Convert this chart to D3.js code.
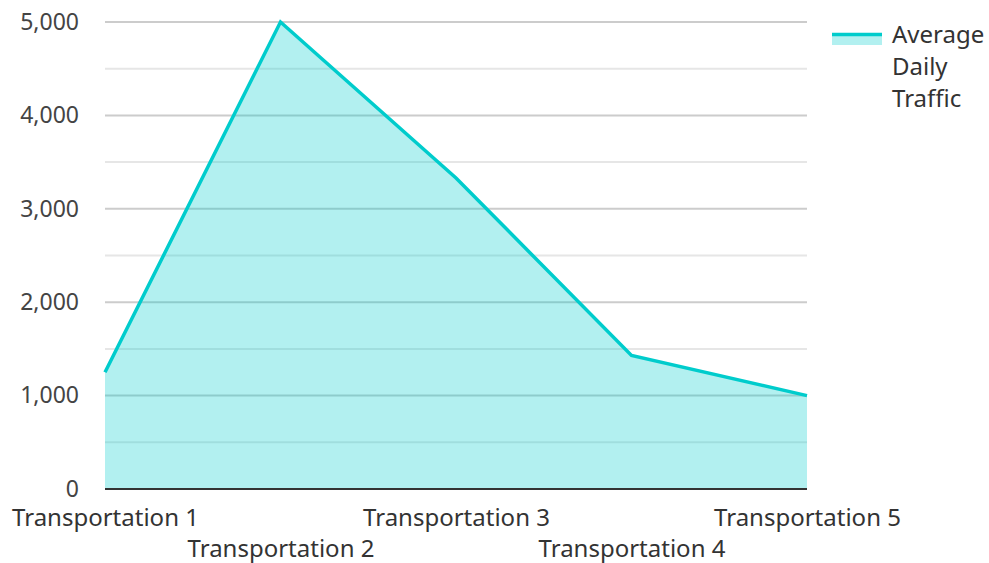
<!DOCTYPE html>
<html><head><meta charset="utf-8">
<script src="https://cdn.jsdelivr.net/npm/d3@7"></script>
<style>
html,body{margin:0;padding:0;background:#fff;}
svg{display:block;font-family:"Noto Sans",sans-serif;}
</style></head>
<body>
<svg id="c" width="989" height="563"></svg>
<script>
const categories = ["Transportation 1","Transportation 2","Transportation 3","Transportation 4","Transportation 5"];
const values = [1250, 5000, 3330, 1430, 1000];
const seriesName = "Average Daily Traffic";
const majorTicks = [0,1000,2000,3000,4000,5000];
const minorTicks = [500,1500,2500,3500,4500];

(function(){
const svg = d3.select("#c");
const mLeft = 105, mRight = 807, mTop = 22, mBottom = 489;
const x = d3.scalePoint().domain(categories).range([mLeft, mRight]);
const y = d3.scaleLinear().domain([0, 5000]).range([mBottom, mTop]);

const lineColor = "#00CCCC";
const fillColor = "rgba(0,204,204,0.3)";

// gridlines
svg.append("g").selectAll("line").data(minorTicks).join("line")
  .attr("x1", mLeft).attr("x2", mRight)
  .attr("y1", d => y(d)).attr("y2", d => y(d))
  .attr("stroke", "#e6e6e6").attr("stroke-width", 2);
svg.append("g").selectAll("line").data(majorTicks.filter(d=>d>0)).join("line")
  .attr("x1", mLeft).attr("x2", mRight)
  .attr("y1", d => y(d)).attr("y2", d => y(d))
  .attr("stroke", "#cccccc").attr("stroke-width", 2);

// area
const data = categories.map((c,i)=>({c, v: values[i]}));
const area = d3.area().x(d => x(d.c)).y0(y(0)).y1(d => y(d.v));
svg.append("path").datum(data).attr("d", area).attr("fill", fillColor);
svg.append("path").datum(data).attr("d", d3.line().x(d=>x(d.c)).y(d=>y(d.v)))
  .attr("fill","none").attr("stroke", lineColor).attr("stroke-width", 3.5).attr("stroke-linejoin","miter");

// baseline
svg.append("line").attr("x1", mLeft).attr("x2", mRight).attr("y1", y(0)).attr("y2", y(0))
  .attr("stroke", "#333").attr("stroke-width", 2);

// y axis labels
const yAxis = d3.axisLeft(y).tickValues(majorTicks).tickFormat(d3.format(",")).tickSize(0).tickPadding(26);
const ya = svg.append("g").attr("transform", `translate(${mLeft},0)`).call(yAxis);
ya.select(".domain").remove();
ya.selectAll("text").attr("font-size", 23).attr("fill", "#444").attr("font-family", '"Noto Sans",sans-serif');

// x axis labels (staggered)
const xAxis = d3.axisBottom(x).tickSize(0).tickPadding(0);
const xa = svg.append("g").attr("transform", `translate(0,${mBottom})`).call(xAxis);
xa.select(".domain").remove();
xa.selectAll("text").attr("font-size", 24).attr("fill", "#333").attr("font-family", '"Noto Sans",sans-serif')
  .attr("dy", null)
  .attr("y", (d,i) => i % 2 === 0 ? 37 : 68);

// legend
const lg = svg.append("g");
lg.append("rect").attr("x", 832).attr("y", 34).attr("width", 50).attr("height", 11).attr("fill", fillColor);
lg.append("line").attr("x1", 832).attr("x2", 882).attr("y1", 34.5).attr("y2", 34.5)
  .attr("stroke", lineColor).attr("stroke-width", 3.5);
const words = seriesName.split(" ");
lg.append("text").attr("font-size", 24).attr("fill", "#333")
  .selectAll("tspan").data(words).join("tspan")
  .attr("x", 892).attr("y", (d,i) => 43 + i*32).text(d => d);
})();
</script>
</body></html>
